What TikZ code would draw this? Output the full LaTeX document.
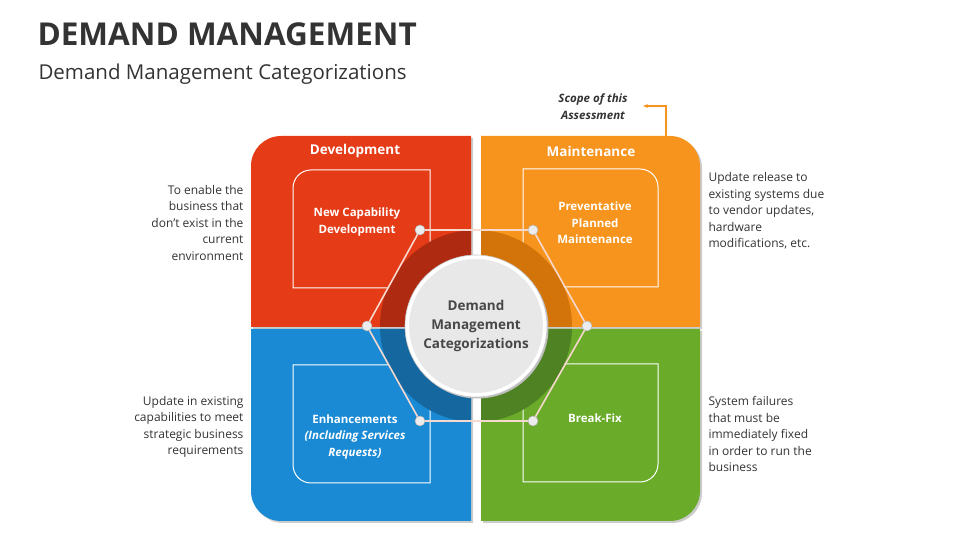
\documentclass[tikz,border=0pt]{standalone}
\usepackage{fontspec}
\setmainfont{Open Sans}
\usetikzlibrary{arrows.meta}
\definecolor{cred}{HTML}{E53B17}\definecolor{cora}{HTML}{F7941D}
\definecolor{cblu}{HTML}{1A8AD4}\definecolor{cgrn}{HTML}{6AAB2A}
\definecolor{dred}{HTML}{AE2A10}\definecolor{dora}{HTML}{D2740A}
\definecolor{dblu}{HTML}{15689F}\definecolor{dgrn}{HTML}{4F8223}
\definecolor{txt}{HTML}{333333}\definecolor{hexc}{HTML}{F6D8CF}
\begin{document}
\begin{tikzpicture}[x=1pt,y=1pt,
  side/.style={font=\fontsize{12}{16.5}\selectfont,text=txt},
  qtitle/.style={font=\fontsize{13.5}{16}\selectfont\bfseries,text=white},
  blabel/.style={font=\fontsize{11.5}{16.5}\selectfont\bfseries,text=white,align=center},
  ibox/.style={draw=white,line width=1pt},
  hexl/.style={draw=hexc,line width=1.6pt},
  dot/.style={circle,fill=gray!15,draw=gray!60,line width=0.5pt,inner sep=0pt,minimum size=10pt}]
\useasboundingbox (0,0) rectangle (960,540);
% quadrants
\def\TL{(251,213)--(251,374) arc(180:90:30)--(471,404)--(471,213)--cycle}
\def\TR{(481,213)--(481,404)--(670,404) arc(90:0:30)--(700,213)--cycle}
\def\BL{(251,211)--(251,49) arc(180:270:30)--(471,19)--(471,211)--cycle}
\def\BR{(481,211)--(481,19)--(670,19) arc(270:360:30)--(700,211)--cycle}
\fill[black!20,xshift=2pt,yshift=-2pt] \TL; \fill[black!20,xshift=2pt,yshift=-2pt] \TR;
\fill[black!20,xshift=2pt,yshift=-2pt] \BL; \fill[black!20,xshift=2pt,yshift=-2pt] \BR;
\fill[cred] \TL; \fill[cora] \TR; \fill[cblu] \BL; \fill[cgrn] \BR;
% inner boxes
\draw[ibox] (430,252)--(293,252)--(293,352) arc(180:90:18)--(430,370)--cycle;
\draw[ibox] (523,253)--(523,371)--(640,371) arc(90:0:18)--(658,253)--cycle;
\draw[ibox] (293,175)--(293,75) arc(180:270:18)--(430,57)--(430,175)--cycle;
\draw[ibox] (523,176)--(523,58)--(640,58) arc(270:360:18)--(658,176)--cycle;
% ring
\begin{scope}\clip \TL; \fill[dred] (476,214) circle (96);\end{scope}
\begin{scope}\clip \TR; \fill[dora] (476,214) circle (96);\end{scope}
\begin{scope}\clip \BL; \fill[dblu] (476,214) circle (96);\end{scope}
\begin{scope}\clip \BR; \fill[dgrn] (476,214) circle (96);\end{scope}
% hexagon
\coordinate (h1) at (420,310); \coordinate (h2) at (533,310); \coordinate (h3) at (587,214);
\coordinate (h4) at (533,119); \coordinate (h5) at (420,119); \coordinate (h6) at (367,214);
\draw[hexl] (h1)--(h2)--(h3)--(h4)--(h5)--(h6)--cycle;
% centre
\fill[black!25] (477.5,212.5) circle (71);
\node[circle,fill=gray!18,draw=white,line width=4pt,minimum size=138pt] (c) at (476,214) {};
\draw[gray!45,line width=0.6pt] (476,214) circle (71);
\node[align=center,font=\fontsize{13.5}{19}\selectfont\bfseries,text=txt!90] (ct) at (476,214) {Demand\\Management\\Categorizations};
\foreach \h in {h1,h2,h3,h4,h5,h6} \node[dot] at (\h) {};
% titles
\node[qtitle] (qd) at (355,389) {Development};
\node[qtitle] (qm) at (591,389) {Maintenance};
\node[blabel] (b1) at (357,318) {New Capability\\Development};
\node[blabel] (b2) at (595,317) {Preventative\\Planned\\Maintenance};
\node[blabel] (b3) at (355,103) {Enhancements\\{\itshape (Including Services}\\{\itshape Requests)}};
\node[blabel] (b4) at (595,122) {Break-Fix};
% side text
\node[side,anchor=east,align=right] (l1) at (247,317) {To enable the\\business that\\don’t exist in the\\current\\environment};
\node[side,anchor=east,align=right] (l2) at (247,113) {Update in existing\\capabilities to meet\\strategic business\\requirements};
\node[side,anchor=west,align=left] (r1) at (705,329) {Update release to\\existing systems due\\to vendor updates,\\hardware\\modifications, etc.};
\node[side,anchor=west,align=left] (r2) at (705,106) {System failures\\that must be\\immediately fixed\\in order to run the\\business};
% scope
\node[align=center,font=\fontsize{11.5}{17}\selectfont\bfseries\itshape,text=txt] (sc) at (593,433) {Scope of this\\Assessment};
\coordinate (sa) at (666,404); \coordinate (sb) at (643,434);
\draw[cora,line width=1.2pt,-{Stealth[length=5pt]}] (sa)|-(sb);
% headings
\node[anchor=west,font=\fontsize{31.5}{34}\selectfont\bfseries,text=txt] (t) at (34,506) {DEMAND MANAGEMENT};
\node[anchor=west,font=\fontsize{20.5}{24}\selectfont,text=txt] (st) at (35,466) {Demand Management Categorizations};
\end{tikzpicture}
\end{document}
